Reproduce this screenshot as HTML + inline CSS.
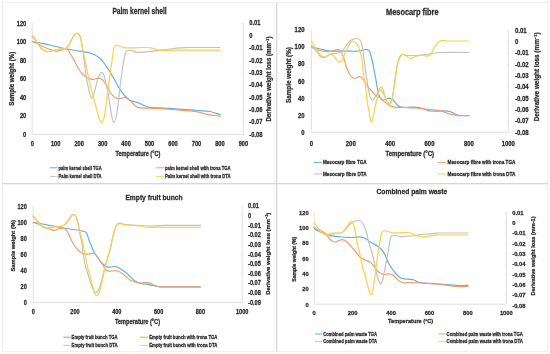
<!DOCTYPE html>
<html><head><meta charset="utf-8"><style>
html,body{margin:0;padding:0;background:#fff;}
body{width:550px;height:354px;overflow:hidden;}
svg{display:block;filter:blur(0.35px);font-family:"Liberation Sans",sans-serif;fill:#2b2b2b;}
text{stroke:#2b2b2b;stroke-width:0.26px;}
</style></head><body>
<svg width="550" height="354" viewBox="0 0 550 354"><rect x="2.5" y="2.5" width="271.5" height="181" fill="none" stroke="#efefef" stroke-width="1"/>
<rect x="277" y="2.5" width="270.5" height="181" fill="none" stroke="#efefef" stroke-width="1"/>
<rect x="2.5" y="184" width="271.5" height="167.5" fill="none" stroke="#efefef" stroke-width="1"/>
<rect x="277" y="184" width="270.5" height="167.5" fill="none" stroke="#efefef" stroke-width="1"/>
<line x1="276.60" y1="2.50" x2="276.60" y2="351.50" stroke="#d4d4d4" stroke-width="1.00"/>
<line x1="2.50" y1="183.60" x2="547.50" y2="183.60" stroke="#d4d4d4" stroke-width="1.00"/>
<line x1="32.20" y1="23.20" x2="32.20" y2="134.60" stroke="#d9d9d9" stroke-width="0.80"/>
<line x1="32.20" y1="134.60" x2="243.40" y2="134.60" stroke="#d9d9d9" stroke-width="0.80"/>
<line x1="243.40" y1="23.20" x2="243.40" y2="134.60" stroke="#d9d9d9" stroke-width="0.80"/>
<line x1="241.90" y1="23.20" x2="243.40" y2="23.20" stroke="#d9d9d9" stroke-width="0.60"/>
<line x1="241.90" y1="35.58" x2="243.40" y2="35.58" stroke="#d9d9d9" stroke-width="0.60"/>
<line x1="241.90" y1="47.96" x2="243.40" y2="47.96" stroke="#d9d9d9" stroke-width="0.60"/>
<line x1="241.90" y1="60.33" x2="243.40" y2="60.33" stroke="#d9d9d9" stroke-width="0.60"/>
<line x1="241.90" y1="72.71" x2="243.40" y2="72.71" stroke="#d9d9d9" stroke-width="0.60"/>
<line x1="241.90" y1="85.09" x2="243.40" y2="85.09" stroke="#d9d9d9" stroke-width="0.60"/>
<line x1="241.90" y1="97.47" x2="243.40" y2="97.47" stroke="#d9d9d9" stroke-width="0.60"/>
<line x1="241.90" y1="109.84" x2="243.40" y2="109.84" stroke="#d9d9d9" stroke-width="0.60"/>
<line x1="241.90" y1="122.22" x2="243.40" y2="122.22" stroke="#d9d9d9" stroke-width="0.60"/>
<line x1="241.90" y1="134.60" x2="243.40" y2="134.60" stroke="#d9d9d9" stroke-width="0.60"/>
<text x="26.20" y="136.81" font-size="6.50" font-weight="bold" text-anchor="end" textLength="3.15" lengthAdjust="spacingAndGlyphs">0</text>
<text x="26.20" y="118.28" font-size="6.50" font-weight="bold" text-anchor="end" textLength="6.30" lengthAdjust="spacingAndGlyphs">20</text>
<text x="26.20" y="99.74" font-size="6.50" font-weight="bold" text-anchor="end" textLength="6.30" lengthAdjust="spacingAndGlyphs">40</text>
<text x="26.20" y="81.21" font-size="6.50" font-weight="bold" text-anchor="end" textLength="6.30" lengthAdjust="spacingAndGlyphs">60</text>
<text x="26.20" y="62.68" font-size="6.50" font-weight="bold" text-anchor="end" textLength="6.30" lengthAdjust="spacingAndGlyphs">80</text>
<text x="26.20" y="44.14" font-size="6.50" font-weight="bold" text-anchor="end" textLength="9.45" lengthAdjust="spacingAndGlyphs">100</text>
<text x="26.20" y="25.61" font-size="6.50" font-weight="bold" text-anchor="end" textLength="9.45" lengthAdjust="spacingAndGlyphs">120</text>
<text x="249.30" y="25.41" font-size="6.50" font-weight="bold" textLength="11.18" lengthAdjust="spacingAndGlyphs">0.01</text>
<text x="249.30" y="37.79" font-size="6.50" font-weight="bold" textLength="3.15" lengthAdjust="spacingAndGlyphs">0</text>
<text x="249.30" y="50.17" font-size="6.50" font-weight="bold" textLength="13.07" lengthAdjust="spacingAndGlyphs">-0.01</text>
<text x="249.30" y="62.54" font-size="6.50" font-weight="bold" textLength="13.07" lengthAdjust="spacingAndGlyphs">-0.02</text>
<text x="249.30" y="74.92" font-size="6.50" font-weight="bold" textLength="13.07" lengthAdjust="spacingAndGlyphs">-0.03</text>
<text x="249.30" y="87.30" font-size="6.50" font-weight="bold" textLength="13.07" lengthAdjust="spacingAndGlyphs">-0.04</text>
<text x="249.30" y="99.68" font-size="6.50" font-weight="bold" textLength="13.07" lengthAdjust="spacingAndGlyphs">-0.05</text>
<text x="249.30" y="112.05" font-size="6.50" font-weight="bold" textLength="13.07" lengthAdjust="spacingAndGlyphs">-0.06</text>
<text x="249.30" y="124.43" font-size="6.50" font-weight="bold" textLength="13.07" lengthAdjust="spacingAndGlyphs">-0.07</text>
<text x="249.30" y="136.81" font-size="6.50" font-weight="bold" textLength="13.07" lengthAdjust="spacingAndGlyphs">-0.08</text>
<text x="32.20" y="146.21" font-size="6.50" font-weight="bold" text-anchor="middle" textLength="3.15" lengthAdjust="spacingAndGlyphs">0</text>
<text x="55.67" y="146.21" font-size="6.50" font-weight="bold" text-anchor="middle" textLength="9.45" lengthAdjust="spacingAndGlyphs">100</text>
<text x="79.13" y="146.21" font-size="6.50" font-weight="bold" text-anchor="middle" textLength="9.45" lengthAdjust="spacingAndGlyphs">200</text>
<text x="102.60" y="146.21" font-size="6.50" font-weight="bold" text-anchor="middle" textLength="9.45" lengthAdjust="spacingAndGlyphs">300</text>
<text x="126.07" y="146.21" font-size="6.50" font-weight="bold" text-anchor="middle" textLength="9.45" lengthAdjust="spacingAndGlyphs">400</text>
<text x="149.53" y="146.21" font-size="6.50" font-weight="bold" text-anchor="middle" textLength="9.45" lengthAdjust="spacingAndGlyphs">500</text>
<text x="173.00" y="146.21" font-size="6.50" font-weight="bold" text-anchor="middle" textLength="9.45" lengthAdjust="spacingAndGlyphs">600</text>
<text x="196.47" y="146.21" font-size="6.50" font-weight="bold" text-anchor="middle" textLength="9.45" lengthAdjust="spacingAndGlyphs">700</text>
<text x="219.93" y="146.21" font-size="6.50" font-weight="bold" text-anchor="middle" textLength="9.45" lengthAdjust="spacingAndGlyphs">800</text>
<text x="243.40" y="146.21" font-size="6.50" font-weight="bold" text-anchor="middle" textLength="9.45" lengthAdjust="spacingAndGlyphs">900</text>
<text x="139.50" y="14.00" font-size="8.20" font-weight="bold" text-anchor="middle" textLength="54.20" lengthAdjust="spacingAndGlyphs">Palm kernel shell</text>
<text x="137.90" y="156.40" font-size="6.40" font-weight="bold" text-anchor="middle" textLength="44.70" lengthAdjust="spacingAndGlyphs">Temperature (°C)</text>
<text x="14.40" y="78.70" font-size="6.40" font-weight="bold" text-anchor="middle" textLength="54.00" lengthAdjust="spacingAndGlyphs" transform="rotate(-90 14.40 78.70)">Sample weight (%)</text>
<text x="270.90" y="79.00" font-size="6.40" font-weight="bold" text-anchor="middle" textLength="85.00" lengthAdjust="spacingAndGlyphs" transform="rotate(-90 270.90 79.00)">Derivative weight loss (mm<tspan dy="-2.24" font-size="4.16">&#8722;1</tspan><tspan dy="2.24">)</tspan></text>
<line x1="49.80" y1="167.80" x2="57.80" y2="167.80" stroke="#5cb0e2" stroke-width="1.00"/>
<text x="58.60" y="169.60" font-size="5.00" font-weight="bold" textLength="43.00" lengthAdjust="spacingAndGlyphs">palm kernel shell TGA</text>
<line x1="49.80" y1="176.40" x2="57.80" y2="176.40" stroke="#c2c2c5" stroke-width="1.00"/>
<text x="58.60" y="178.20" font-size="5.00" font-weight="bold" textLength="43.00" lengthAdjust="spacingAndGlyphs">Palm kernel shell DTA</text>
<line x1="156.20" y1="167.80" x2="164.20" y2="167.80" stroke="#f69c6a" stroke-width="1.00"/>
<text x="165.00" y="169.60" font-size="5.00" font-weight="bold" textLength="65.60" lengthAdjust="spacingAndGlyphs">palm kernel shell with trona TGA</text>
<line x1="156.20" y1="176.40" x2="164.20" y2="176.40" stroke="#fdd045" stroke-width="1.00"/>
<text x="165.00" y="178.20" font-size="5.00" font-weight="bold" textLength="65.60" lengthAdjust="spacingAndGlyphs">Palm kernel shell with trona DTA</text>
<path d="M32.20,41.50 C33.50,41.75 37.03,42.42 40.00,43.00 C42.97,43.58 46.67,44.25 50.00,45.00 C53.33,45.75 56.67,46.75 60.00,47.50 C63.33,48.25 66.67,48.88 70.00,49.50 C73.33,50.12 76.67,50.62 80.00,51.20 C83.33,51.78 87.50,52.37 90.00,53.00 C92.50,53.63 93.33,54.08 95.00,55.00 C96.67,55.92 98.50,57.17 100.00,58.50 C101.50,59.83 102.83,61.50 104.00,63.00 C105.17,64.50 106.00,66.00 107.00,67.50 C108.00,69.00 109.00,70.42 110.00,72.00 C111.00,73.58 112.00,75.25 113.00,77.00 C114.00,78.75 115.00,80.67 116.00,82.50 C117.00,84.33 118.00,86.37 119.00,88.00 C120.00,89.63 120.83,90.80 122.00,92.30 C123.17,93.80 124.67,95.67 126.00,97.00 C127.33,98.33 128.50,99.50 130.00,100.30 C131.50,101.10 133.33,101.27 135.00,101.80 C136.67,102.33 138.33,102.80 140.00,103.50 C141.67,104.20 143.33,105.35 145.00,106.00 C146.67,106.65 147.50,107.08 150.00,107.40 C152.50,107.72 156.67,107.73 160.00,107.90 C163.33,108.07 166.67,108.18 170.00,108.40 C173.33,108.62 176.67,108.97 180.00,109.20 C183.33,109.43 186.67,109.57 190.00,109.80 C193.33,110.03 196.67,110.32 200.00,110.60 C203.33,110.88 207.50,111.10 210.00,111.50 C212.50,111.90 213.30,112.48 215.00,113.00 C216.70,113.52 219.33,114.33 220.20,114.60" fill="none" stroke="#5cb0e2" stroke-width="1.20" stroke-linejoin="round" stroke-linecap="round"/>
<path d="M32.20,41.50 C32.83,41.75 34.70,42.42 36.00,43.00 C37.30,43.58 38.50,44.25 40.00,45.00 C41.50,45.75 43.33,46.75 45.00,47.50 C46.67,48.25 48.33,48.92 50.00,49.50 C51.67,50.08 53.67,50.73 55.00,51.00 C56.33,51.27 56.83,51.33 58.00,51.10 C59.17,50.87 60.67,50.02 62.00,49.60 C63.33,49.18 65.00,48.53 66.00,48.60 C67.00,48.67 67.17,48.93 68.00,50.00 C68.83,51.07 70.00,53.33 71.00,55.00 C72.00,56.67 73.00,58.17 74.00,60.00 C75.00,61.83 76.00,64.17 77.00,66.00 C78.00,67.83 79.00,69.58 80.00,71.00 C81.00,72.42 81.83,73.42 83.00,74.50 C84.17,75.58 85.67,76.72 87.00,77.50 C88.33,78.28 89.67,78.95 91.00,79.20 C92.33,79.45 93.67,79.17 95.00,79.00 C96.33,78.83 97.83,78.12 99.00,78.20 C100.17,78.28 101.00,78.70 102.00,79.50 C103.00,80.30 104.00,81.58 105.00,83.00 C106.00,84.42 107.08,86.35 108.00,88.00 C108.92,89.65 109.33,91.33 110.50,92.90 C111.67,94.47 113.50,96.45 115.00,97.40 C116.50,98.35 117.83,98.60 119.50,98.60 C121.17,98.60 123.25,97.07 125.00,97.40 C126.75,97.73 128.33,99.25 130.00,100.60 C131.67,101.95 133.58,104.33 135.00,105.50 C136.42,106.67 136.83,107.15 138.50,107.60 C140.17,108.05 143.08,108.12 145.00,108.20 C146.92,108.28 147.50,108.03 150.00,108.10 C152.50,108.17 156.67,108.40 160.00,108.60 C163.33,108.80 166.67,109.03 170.00,109.30 C173.33,109.57 176.67,109.93 180.00,110.20 C183.33,110.47 187.50,110.72 190.00,110.90 C192.50,111.08 193.33,111.05 195.00,111.30 C196.67,111.55 198.33,111.98 200.00,112.40 C201.67,112.82 203.33,113.40 205.00,113.80 C206.67,114.20 208.33,114.52 210.00,114.80 C211.67,115.08 213.30,115.23 215.00,115.50 C216.70,115.77 219.33,116.25 220.20,116.40" fill="none" stroke="#f69c6a" stroke-width="1.20" stroke-linejoin="round" stroke-linecap="round"/>
<path d="M32.20,36.50 C32.67,37.08 34.03,38.75 35.00,40.00 C35.97,41.25 37.00,42.67 38.00,44.00 C39.00,45.33 40.00,46.92 41.00,48.00 C42.00,49.08 43.00,49.92 44.00,50.50 C45.00,51.08 45.83,51.38 47.00,51.50 C48.17,51.62 49.67,51.45 51.00,51.20 C52.33,50.95 53.50,50.37 55.00,50.00 C56.50,49.63 58.33,49.25 60.00,49.00 C61.67,48.75 63.67,48.92 65.00,48.50 C66.33,48.08 67.17,47.42 68.00,46.50 C68.83,45.58 69.17,44.58 70.00,43.00 C70.83,41.42 72.00,38.57 73.00,37.00 C74.00,35.43 75.17,34.17 76.00,33.60 C76.83,33.03 77.33,33.20 78.00,33.60 C78.67,34.00 79.42,34.60 80.00,36.00 C80.58,37.40 81.00,39.33 81.50,42.00 C82.00,44.67 82.50,48.50 83.00,52.00 C83.50,55.50 84.00,59.17 84.50,63.00 C85.00,66.83 85.42,71.17 86.00,75.00 C86.58,78.83 87.42,83.00 88.00,86.00 C88.58,89.00 88.95,91.08 89.50,93.00 C90.05,94.92 90.72,96.83 91.30,97.50 C91.88,98.17 92.38,98.25 93.00,97.00 C93.62,95.75 94.33,92.50 95.00,90.00 C95.67,87.50 96.33,84.33 97.00,82.00 C97.67,79.67 98.33,77.50 99.00,76.00 C99.67,74.50 100.50,73.58 101.00,73.00 C101.50,72.42 101.58,72.33 102.00,72.50 C102.42,72.67 103.00,72.92 103.50,74.00 C104.00,75.08 104.50,77.00 105.00,79.00 C105.50,81.00 106.00,83.67 106.50,86.00 C107.00,88.33 107.50,90.33 108.00,93.00 C108.50,95.67 108.90,98.25 109.50,102.00 C110.10,105.75 110.87,112.12 111.60,115.50 C112.33,118.88 113.08,122.30 113.90,122.30 C114.72,122.30 115.73,119.22 116.50,115.50 C117.27,111.78 117.92,104.75 118.50,100.00 C119.08,95.25 119.50,91.17 120.00,87.00 C120.50,82.83 121.00,78.67 121.50,75.00 C122.00,71.33 122.42,68.33 123.00,65.00 C123.58,61.67 124.33,57.33 125.00,55.00 C125.67,52.67 126.17,51.80 127.00,51.00 C127.83,50.20 129.00,50.20 130.00,50.20 C131.00,50.20 131.83,50.63 133.00,51.00 C134.17,51.37 135.00,52.23 137.00,52.40 C139.00,52.57 142.00,52.23 145.00,52.00 C148.00,51.77 152.17,51.30 155.00,51.00 C157.83,50.70 159.50,50.53 162.00,50.20 C164.50,49.87 167.00,49.40 170.00,49.00 C173.00,48.60 176.67,48.05 180.00,47.80 C183.33,47.55 183.30,47.55 190.00,47.50 C196.70,47.45 215.17,47.50 220.20,47.50" fill="none" stroke="#c2c2c5" stroke-width="1.20" stroke-linejoin="round" stroke-linecap="round"/>
<path d="M32.20,35.00 C32.67,35.67 34.03,37.58 35.00,39.00 C35.97,40.42 37.00,42.00 38.00,43.50 C39.00,45.00 40.00,46.83 41.00,48.00 C42.00,49.17 43.00,49.92 44.00,50.50 C45.00,51.08 45.83,51.38 47.00,51.50 C48.17,51.62 49.67,51.45 51.00,51.20 C52.33,50.95 53.50,50.37 55.00,50.00 C56.50,49.63 58.33,49.25 60.00,49.00 C61.67,48.75 63.67,48.92 65.00,48.50 C66.33,48.08 67.17,47.42 68.00,46.50 C68.83,45.58 69.17,44.58 70.00,43.00 C70.83,41.42 72.00,38.58 73.00,37.00 C74.00,35.42 75.17,34.08 76.00,33.50 C76.83,32.92 77.33,32.92 78.00,33.50 C78.67,34.08 79.33,35.08 80.00,37.00 C80.67,38.92 81.33,42.00 82.00,45.00 C82.67,48.00 83.42,52.17 84.00,55.00 C84.58,57.83 85.00,59.50 85.50,62.00 C86.00,64.50 86.42,67.00 87.00,70.00 C87.58,73.00 88.33,77.00 89.00,80.00 C89.67,83.00 90.05,84.33 91.00,88.00 C91.95,91.67 93.43,97.23 94.70,102.00 C95.97,106.77 97.47,113.13 98.60,116.60 C99.73,120.07 100.55,122.80 101.50,122.80 C102.45,122.80 103.37,121.02 104.30,116.60 C105.23,112.18 106.40,101.57 107.10,96.30 C107.80,91.03 108.02,88.55 108.50,85.00 C108.98,81.45 109.42,79.00 110.00,75.00 C110.58,71.00 111.42,65.17 112.00,61.00 C112.58,56.83 113.00,52.50 113.50,50.00 C114.00,47.50 114.42,46.75 115.00,46.00 C115.58,45.25 116.00,45.42 117.00,45.50 C118.00,45.58 119.67,46.12 121.00,46.50 C122.33,46.88 122.67,47.58 125.00,47.80 C127.33,48.02 131.33,47.85 135.00,47.80 C138.67,47.75 144.00,47.38 147.00,47.50 C150.00,47.62 150.83,48.05 153.00,48.50 C155.17,48.95 156.33,49.92 160.00,50.20 C163.67,50.48 164.97,50.20 175.00,50.20 C185.03,50.20 212.67,50.20 220.20,50.20" fill="none" stroke="#fdd045" stroke-width="1.20" stroke-linejoin="round" stroke-linecap="round"/>
<line x1="311.40" y1="30.00" x2="311.40" y2="132.30" stroke="#d9d9d9" stroke-width="0.80"/>
<line x1="311.40" y1="132.30" x2="508.30" y2="132.30" stroke="#d9d9d9" stroke-width="0.80"/>
<line x1="508.30" y1="30.00" x2="508.30" y2="132.30" stroke="#d9d9d9" stroke-width="0.80"/>
<line x1="506.80" y1="30.40" x2="508.30" y2="30.40" stroke="#d9d9d9" stroke-width="0.60"/>
<line x1="506.80" y1="41.73" x2="508.30" y2="41.73" stroke="#d9d9d9" stroke-width="0.60"/>
<line x1="506.80" y1="53.07" x2="508.30" y2="53.07" stroke="#d9d9d9" stroke-width="0.60"/>
<line x1="506.80" y1="64.40" x2="508.30" y2="64.40" stroke="#d9d9d9" stroke-width="0.60"/>
<line x1="506.80" y1="75.73" x2="508.30" y2="75.73" stroke="#d9d9d9" stroke-width="0.60"/>
<line x1="506.80" y1="87.07" x2="508.30" y2="87.07" stroke="#d9d9d9" stroke-width="0.60"/>
<line x1="506.80" y1="98.40" x2="508.30" y2="98.40" stroke="#d9d9d9" stroke-width="0.60"/>
<line x1="506.80" y1="109.73" x2="508.30" y2="109.73" stroke="#d9d9d9" stroke-width="0.60"/>
<line x1="506.80" y1="121.07" x2="508.30" y2="121.07" stroke="#d9d9d9" stroke-width="0.60"/>
<line x1="506.80" y1="132.40" x2="508.30" y2="132.40" stroke="#d9d9d9" stroke-width="0.60"/>
<text x="304.50" y="134.81" font-size="6.50" font-weight="bold" text-anchor="end" textLength="3.30" lengthAdjust="spacingAndGlyphs">0</text>
<text x="304.50" y="117.71" font-size="6.50" font-weight="bold" text-anchor="end" textLength="6.60" lengthAdjust="spacingAndGlyphs">20</text>
<text x="304.50" y="100.61" font-size="6.50" font-weight="bold" text-anchor="end" textLength="6.60" lengthAdjust="spacingAndGlyphs">40</text>
<text x="304.50" y="83.51" font-size="6.50" font-weight="bold" text-anchor="end" textLength="6.60" lengthAdjust="spacingAndGlyphs">60</text>
<text x="304.50" y="66.41" font-size="6.50" font-weight="bold" text-anchor="end" textLength="6.60" lengthAdjust="spacingAndGlyphs">80</text>
<text x="304.50" y="49.31" font-size="6.50" font-weight="bold" text-anchor="end" textLength="9.90" lengthAdjust="spacingAndGlyphs">100</text>
<text x="304.50" y="32.21" font-size="6.50" font-weight="bold" text-anchor="end" textLength="9.90" lengthAdjust="spacingAndGlyphs">120</text>
<text x="515.00" y="32.61" font-size="6.50" font-weight="bold" textLength="11.71" lengthAdjust="spacingAndGlyphs">0.01</text>
<text x="515.00" y="43.94" font-size="6.50" font-weight="bold" textLength="3.30" lengthAdjust="spacingAndGlyphs">0</text>
<text x="515.00" y="55.28" font-size="6.50" font-weight="bold" textLength="13.70" lengthAdjust="spacingAndGlyphs">-0.01</text>
<text x="515.00" y="66.61" font-size="6.50" font-weight="bold" textLength="13.70" lengthAdjust="spacingAndGlyphs">-0.02</text>
<text x="515.00" y="77.94" font-size="6.50" font-weight="bold" textLength="13.70" lengthAdjust="spacingAndGlyphs">-0.03</text>
<text x="515.00" y="89.28" font-size="6.50" font-weight="bold" textLength="13.70" lengthAdjust="spacingAndGlyphs">-0.04</text>
<text x="515.00" y="100.61" font-size="6.50" font-weight="bold" textLength="13.70" lengthAdjust="spacingAndGlyphs">-0.05</text>
<text x="515.00" y="111.94" font-size="6.50" font-weight="bold" textLength="13.70" lengthAdjust="spacingAndGlyphs">-0.06</text>
<text x="515.00" y="123.28" font-size="6.50" font-weight="bold" textLength="13.70" lengthAdjust="spacingAndGlyphs">-0.07</text>
<text x="515.00" y="134.61" font-size="6.50" font-weight="bold" textLength="13.70" lengthAdjust="spacingAndGlyphs">-0.08</text>
<text x="311.40" y="145.61" font-size="6.50" font-weight="bold" text-anchor="middle" textLength="3.30" lengthAdjust="spacingAndGlyphs">0</text>
<text x="350.78" y="145.61" font-size="6.50" font-weight="bold" text-anchor="middle" textLength="9.90" lengthAdjust="spacingAndGlyphs">200</text>
<text x="390.16" y="145.61" font-size="6.50" font-weight="bold" text-anchor="middle" textLength="9.90" lengthAdjust="spacingAndGlyphs">400</text>
<text x="429.54" y="145.61" font-size="6.50" font-weight="bold" text-anchor="middle" textLength="9.90" lengthAdjust="spacingAndGlyphs">600</text>
<text x="468.92" y="145.61" font-size="6.50" font-weight="bold" text-anchor="middle" textLength="9.90" lengthAdjust="spacingAndGlyphs">800</text>
<text x="508.30" y="145.61" font-size="6.50" font-weight="bold" text-anchor="middle" textLength="13.20" lengthAdjust="spacingAndGlyphs">1000</text>
<text x="412.30" y="15.00" font-size="8.40" font-weight="bold" text-anchor="middle" textLength="52.60" lengthAdjust="spacingAndGlyphs">Mesocarp fibre</text>
<text x="409.80" y="156.40" font-size="6.60" font-weight="bold" text-anchor="middle" textLength="48.70" lengthAdjust="spacingAndGlyphs">Temperature (°C)</text>
<text x="291.20" y="75.00" font-size="6.40" font-weight="bold" text-anchor="middle" textLength="56.00" lengthAdjust="spacingAndGlyphs" transform="rotate(-90 291.20 75.00)">Sample weight (%)</text>
<text x="539.30" y="76.80" font-size="6.40" font-weight="bold" text-anchor="middle" textLength="89.00" lengthAdjust="spacingAndGlyphs" transform="rotate(-90 539.30 76.80)">Derivative weight loss (mm<tspan dy="-2.24" font-size="4.16">&#8722;1</tspan><tspan dy="2.24">)</tspan></text>
<line x1="313.60" y1="162.40" x2="322.00" y2="162.40" stroke="#5cb0e2" stroke-width="1.00"/>
<text x="323.00" y="164.27" font-size="5.20" font-weight="bold" textLength="43.60" lengthAdjust="spacingAndGlyphs">Mesocarp fibre TGA</text>
<line x1="313.60" y1="174.00" x2="322.00" y2="174.00" stroke="#c2c2c5" stroke-width="1.00"/>
<text x="323.00" y="175.87" font-size="5.20" font-weight="bold" textLength="43.60" lengthAdjust="spacingAndGlyphs">Mesocarp fibre DTA</text>
<line x1="438.00" y1="162.40" x2="446.00" y2="162.40" stroke="#f69c6a" stroke-width="1.00"/>
<text x="447.60" y="164.27" font-size="5.20" font-weight="bold" textLength="67.80" lengthAdjust="spacingAndGlyphs">Mesocarp fibre with trona TGA</text>
<line x1="438.00" y1="174.00" x2="446.00" y2="174.00" stroke="#fdd045" stroke-width="1.00"/>
<text x="447.60" y="175.87" font-size="5.20" font-weight="bold" textLength="67.80" lengthAdjust="spacingAndGlyphs">Mesocarp fibre with trona DTA</text>
<path d="M311.60,47.20 C313.00,47.50 316.93,48.37 320.00,49.00 C323.07,49.63 326.67,50.63 330.00,51.00 C333.33,51.37 336.67,51.17 340.00,51.20 C343.33,51.23 347.00,51.20 350.00,51.20 C353.00,51.20 356.00,51.32 358.00,51.20 C360.00,51.08 360.83,50.78 362.00,50.50 C363.17,50.22 364.00,49.62 365.00,49.50 C366.00,49.38 367.17,49.38 368.00,49.80 C368.83,50.22 369.33,50.30 370.00,52.00 C370.67,53.70 371.42,57.50 372.00,60.00 C372.58,62.50 373.00,64.50 373.50,67.00 C374.00,69.50 374.50,72.33 375.00,75.00 C375.50,77.67 376.00,80.23 376.50,83.00 C377.00,85.77 377.52,89.33 378.00,91.60 C378.48,93.87 378.73,95.20 379.40,96.60 C380.07,98.00 380.87,99.60 382.00,100.00 C383.13,100.40 384.93,99.28 386.20,99.00 C387.47,98.72 388.62,98.27 389.60,98.30 C390.58,98.33 391.12,98.48 392.10,99.20 C393.08,99.92 394.35,101.37 395.50,102.60 C396.65,103.83 397.42,105.78 399.00,106.60 C400.58,107.42 403.17,107.40 405.00,107.50 C406.83,107.60 408.33,107.25 410.00,107.20 C411.67,107.15 413.33,107.10 415.00,107.20 C416.67,107.30 418.33,107.42 420.00,107.80 C421.67,108.18 423.33,108.97 425.00,109.50 C426.67,110.03 427.50,110.73 430.00,111.00 C432.50,111.27 437.50,111.12 440.00,111.10 C442.50,111.08 443.33,110.83 445.00,110.90 C446.67,110.97 448.50,111.07 450.00,111.50 C451.50,111.93 452.83,112.92 454.00,113.50 C455.17,114.08 456.00,114.67 457.00,115.00 C458.00,115.33 458.00,115.40 460.00,115.50 C462.00,115.60 467.50,115.58 469.00,115.60" fill="none" stroke="#5cb0e2" stroke-width="1.20" stroke-linejoin="round" stroke-linecap="round"/>
<path d="M311.60,47.00 C312.17,47.33 313.60,48.42 315.00,49.00 C316.40,49.58 318.33,50.08 320.00,50.50 C321.67,50.92 323.33,51.33 325.00,51.50 C326.67,51.67 328.50,51.67 330.00,51.50 C331.50,51.33 332.83,50.83 334.00,50.50 C335.17,50.17 336.17,49.62 337.00,49.50 C337.83,49.38 338.33,49.47 339.00,49.80 C339.67,50.13 340.33,50.47 341.00,51.50 C341.67,52.53 342.33,54.25 343.00,56.00 C343.67,57.75 344.50,60.33 345.00,62.00 C345.50,63.67 345.50,64.50 346.00,66.00 C346.50,67.50 347.33,69.50 348.00,71.00 C348.67,72.50 349.17,73.83 350.00,75.00 C350.83,76.17 352.00,77.50 353.00,78.00 C354.00,78.50 354.83,78.25 356.00,78.00 C357.17,77.75 358.83,76.33 360.00,76.50 C361.17,76.67 362.00,77.75 363.00,79.00 C364.00,80.25 365.00,82.50 366.00,84.00 C367.00,85.50 368.00,86.77 369.00,88.00 C370.00,89.23 370.97,90.23 372.00,91.40 C373.03,92.57 373.97,93.98 375.20,95.00 C376.43,96.02 378.00,96.52 379.40,97.50 C380.80,98.48 382.18,99.77 383.60,100.90 C385.02,102.03 386.62,103.38 387.90,104.30 C389.18,105.22 390.17,105.92 391.30,106.40 C392.43,106.88 393.25,107.05 394.70,107.20 C396.15,107.35 398.28,107.25 400.00,107.30 C401.72,107.35 402.50,107.38 405.00,107.50 C407.50,107.62 411.67,107.75 415.00,108.00 C418.33,108.25 421.67,108.67 425.00,109.00 C428.33,109.33 432.50,109.75 435.00,110.00 C437.50,110.25 438.33,110.12 440.00,110.50 C441.67,110.88 443.33,111.72 445.00,112.30 C446.67,112.88 448.33,113.55 450.00,114.00 C451.67,114.45 453.33,114.72 455.00,115.00 C456.67,115.28 458.33,115.58 460.00,115.70 C461.67,115.82 463.50,115.73 465.00,115.70 C466.50,115.67 468.33,115.53 469.00,115.50" fill="none" stroke="#f69c6a" stroke-width="1.20" stroke-linejoin="round" stroke-linecap="round"/>
<path d="M311.60,45.00 C312.00,45.50 313.10,46.83 314.00,48.00 C314.90,49.17 316.00,50.67 317.00,52.00 C318.00,53.33 319.00,55.08 320.00,56.00 C321.00,56.92 322.00,57.42 323.00,57.50 C324.00,57.58 324.83,57.08 326.00,56.50 C327.17,55.92 328.67,54.50 330.00,54.00 C331.33,53.50 332.67,53.67 334.00,53.50 C335.33,53.33 336.67,53.42 338.00,53.00 C339.33,52.58 340.67,52.17 342.00,51.00 C343.33,49.83 344.67,47.67 346.00,46.00 C347.33,44.33 348.67,42.17 350.00,41.00 C351.33,39.83 352.83,39.42 354.00,39.00 C355.17,38.58 356.00,38.33 357.00,38.50 C358.00,38.67 359.17,38.92 360.00,40.00 C360.83,41.08 361.42,42.50 362.00,45.00 C362.58,47.50 363.08,52.00 363.50,55.00 C363.92,58.00 364.17,60.50 364.50,63.00 C364.83,65.50 365.08,67.17 365.50,70.00 C365.92,72.83 366.52,76.83 367.00,80.00 C367.48,83.17 367.88,86.23 368.40,89.00 C368.92,91.77 369.47,94.73 370.10,96.60 C370.73,98.47 371.50,99.92 372.20,100.20 C372.90,100.48 373.60,99.17 374.30,98.30 C375.00,97.43 375.62,96.22 376.40,95.00 C377.18,93.78 378.23,91.83 379.00,91.00 C379.77,90.17 380.17,89.33 381.00,90.00 C381.83,90.67 383.00,93.17 384.00,95.00 C385.00,96.83 386.08,99.58 387.00,101.00 C387.92,102.42 388.67,103.83 389.50,103.50 C390.33,103.17 391.25,101.75 392.00,99.00 C392.75,96.25 393.33,91.50 394.00,87.00 C394.67,82.50 395.33,76.17 396.00,72.00 C396.67,67.83 397.17,64.67 398.00,62.00 C398.83,59.33 400.17,57.25 401.00,56.00 C401.83,54.75 402.00,54.58 403.00,54.50 C404.00,54.42 405.00,55.33 407.00,55.50 C409.00,55.67 412.83,55.58 415.00,55.50 C417.17,55.42 417.50,55.25 420.00,55.00 C422.50,54.75 427.50,54.33 430.00,54.00 C432.50,53.67 433.33,53.25 435.00,53.00 C436.67,52.75 434.33,52.58 440.00,52.50 C445.67,52.42 464.17,52.50 469.00,52.50" fill="none" stroke="#c2c2c5" stroke-width="1.20" stroke-linejoin="round" stroke-linecap="round"/>
<path d="M311.60,41.50 C312.00,42.08 313.10,43.58 314.00,45.00 C314.90,46.42 316.00,48.42 317.00,50.00 C318.00,51.58 319.00,53.37 320.00,54.50 C321.00,55.63 322.00,56.52 323.00,56.80 C324.00,57.08 324.83,56.58 326.00,56.20 C327.17,55.82 328.83,54.70 330.00,54.50 C331.17,54.30 332.00,54.25 333.00,55.00 C334.00,55.75 335.00,57.80 336.00,59.00 C337.00,60.20 338.17,61.78 339.00,62.20 C339.83,62.62 340.33,62.20 341.00,61.50 C341.67,60.80 342.33,59.42 343.00,58.00 C343.67,56.58 344.17,54.83 345.00,53.00 C345.83,51.17 347.00,48.83 348.00,47.00 C349.00,45.17 350.17,43.00 351.00,42.00 C351.83,41.00 352.17,40.83 353.00,41.00 C353.83,41.17 355.00,41.83 356.00,43.00 C357.00,44.17 358.17,46.00 359.00,48.00 C359.83,50.00 360.42,52.50 361.00,55.00 C361.58,57.50 362.17,60.50 362.50,63.00 C362.83,65.50 362.67,67.17 363.00,70.00 C363.33,72.83 364.00,76.67 364.50,80.00 C365.00,83.33 365.58,86.67 366.00,90.00 C366.42,93.33 366.50,96.33 367.00,100.00 C367.50,103.67 368.30,108.37 369.00,112.00 C369.70,115.63 370.45,121.30 371.20,121.80 C371.95,122.30 372.78,117.80 373.50,115.00 C374.22,112.20 374.83,108.07 375.50,105.00 C376.17,101.93 376.85,99.27 377.50,96.60 C378.15,93.93 378.80,90.62 379.40,89.00 C380.00,87.38 380.53,86.90 381.10,86.90 C381.67,86.90 382.10,87.23 382.80,89.00 C383.50,90.77 384.45,95.17 385.30,97.50 C386.15,99.83 387.18,101.87 387.90,103.00 C388.62,104.13 389.03,104.37 389.60,104.30 C390.17,104.23 390.73,104.15 391.30,102.60 C391.87,101.05 392.52,97.68 393.00,95.00 C393.48,92.32 393.78,89.33 394.20,86.50 C394.62,83.67 395.03,81.25 395.50,78.00 C395.97,74.75 396.58,69.67 397.00,67.00 C397.42,64.33 397.58,63.67 398.00,62.00 C398.42,60.33 399.00,58.17 399.50,57.00 C400.00,55.83 400.42,55.42 401.00,55.00 C401.58,54.58 402.17,54.33 403.00,54.50 C403.83,54.67 405.00,55.42 406.00,56.00 C407.00,56.58 408.00,57.63 409.00,58.00 C410.00,58.37 410.83,58.45 412.00,58.20 C413.17,57.95 414.67,56.95 416.00,56.50 C417.33,56.05 418.67,55.67 420.00,55.50 C421.33,55.33 422.83,55.38 424.00,55.50 C425.17,55.62 426.00,56.28 427.00,56.20 C428.00,56.12 429.17,55.70 430.00,55.00 C430.83,54.30 431.33,53.17 432.00,52.00 C432.67,50.83 433.17,49.33 434.00,48.00 C434.83,46.67 436.17,45.08 437.00,44.00 C437.83,42.92 438.17,42.07 439.00,41.50 C439.83,40.93 441.00,40.73 442.00,40.60 C443.00,40.47 443.67,40.63 445.00,40.70 C446.33,40.77 446.00,40.95 450.00,41.00 C454.00,41.05 465.83,41.00 469.00,41.00" fill="none" stroke="#fdd045" stroke-width="1.20" stroke-linejoin="round" stroke-linecap="round"/>
<line x1="33.20" y1="206.00" x2="33.20" y2="302.60" stroke="#d9d9d9" stroke-width="0.80"/>
<line x1="33.20" y1="302.60" x2="242.20" y2="302.60" stroke="#d9d9d9" stroke-width="0.80"/>
<line x1="242.20" y1="206.00" x2="242.20" y2="302.60" stroke="#d9d9d9" stroke-width="0.80"/>
<line x1="240.70" y1="206.00" x2="242.20" y2="206.00" stroke="#d9d9d9" stroke-width="0.60"/>
<line x1="240.70" y1="215.66" x2="242.20" y2="215.66" stroke="#d9d9d9" stroke-width="0.60"/>
<line x1="240.70" y1="225.32" x2="242.20" y2="225.32" stroke="#d9d9d9" stroke-width="0.60"/>
<line x1="240.70" y1="234.98" x2="242.20" y2="234.98" stroke="#d9d9d9" stroke-width="0.60"/>
<line x1="240.70" y1="244.64" x2="242.20" y2="244.64" stroke="#d9d9d9" stroke-width="0.60"/>
<line x1="240.70" y1="254.30" x2="242.20" y2="254.30" stroke="#d9d9d9" stroke-width="0.60"/>
<line x1="240.70" y1="263.96" x2="242.20" y2="263.96" stroke="#d9d9d9" stroke-width="0.60"/>
<line x1="240.70" y1="273.62" x2="242.20" y2="273.62" stroke="#d9d9d9" stroke-width="0.60"/>
<line x1="240.70" y1="283.28" x2="242.20" y2="283.28" stroke="#d9d9d9" stroke-width="0.60"/>
<line x1="240.70" y1="292.94" x2="242.20" y2="292.94" stroke="#d9d9d9" stroke-width="0.60"/>
<line x1="240.70" y1="302.60" x2="242.20" y2="302.60" stroke="#d9d9d9" stroke-width="0.60"/>
<text x="26.80" y="305.01" font-size="6.50" font-weight="bold" text-anchor="end" textLength="3.10" lengthAdjust="spacingAndGlyphs">0</text>
<text x="26.80" y="288.93" font-size="6.50" font-weight="bold" text-anchor="end" textLength="6.20" lengthAdjust="spacingAndGlyphs">20</text>
<text x="26.80" y="272.84" font-size="6.50" font-weight="bold" text-anchor="end" textLength="6.20" lengthAdjust="spacingAndGlyphs">40</text>
<text x="26.80" y="256.76" font-size="6.50" font-weight="bold" text-anchor="end" textLength="6.20" lengthAdjust="spacingAndGlyphs">60</text>
<text x="26.80" y="240.68" font-size="6.50" font-weight="bold" text-anchor="end" textLength="6.20" lengthAdjust="spacingAndGlyphs">80</text>
<text x="26.80" y="224.59" font-size="6.50" font-weight="bold" text-anchor="end" textLength="9.30" lengthAdjust="spacingAndGlyphs">100</text>
<text x="26.80" y="208.51" font-size="6.50" font-weight="bold" text-anchor="end" textLength="9.30" lengthAdjust="spacingAndGlyphs">120</text>
<text x="248.00" y="208.21" font-size="6.50" font-weight="bold" textLength="11.01" lengthAdjust="spacingAndGlyphs">0.01</text>
<text x="248.00" y="217.87" font-size="6.50" font-weight="bold" textLength="3.10" lengthAdjust="spacingAndGlyphs">0</text>
<text x="248.00" y="227.53" font-size="6.50" font-weight="bold" textLength="12.87" lengthAdjust="spacingAndGlyphs">-0.01</text>
<text x="248.00" y="237.19" font-size="6.50" font-weight="bold" textLength="12.87" lengthAdjust="spacingAndGlyphs">-0.02</text>
<text x="248.00" y="246.85" font-size="6.50" font-weight="bold" textLength="12.87" lengthAdjust="spacingAndGlyphs">-0.03</text>
<text x="248.00" y="256.51" font-size="6.50" font-weight="bold" textLength="12.87" lengthAdjust="spacingAndGlyphs">-0.04</text>
<text x="248.00" y="266.17" font-size="6.50" font-weight="bold" textLength="12.87" lengthAdjust="spacingAndGlyphs">-0.05</text>
<text x="248.00" y="275.83" font-size="6.50" font-weight="bold" textLength="12.87" lengthAdjust="spacingAndGlyphs">-0.06</text>
<text x="248.00" y="285.49" font-size="6.50" font-weight="bold" textLength="12.87" lengthAdjust="spacingAndGlyphs">-0.07</text>
<text x="248.00" y="295.15" font-size="6.50" font-weight="bold" textLength="12.87" lengthAdjust="spacingAndGlyphs">-0.08</text>
<text x="248.00" y="304.81" font-size="6.50" font-weight="bold" textLength="12.87" lengthAdjust="spacingAndGlyphs">-0.09</text>
<text x="33.20" y="313.81" font-size="6.50" font-weight="bold" text-anchor="middle" textLength="3.10" lengthAdjust="spacingAndGlyphs">0</text>
<text x="75.00" y="313.81" font-size="6.50" font-weight="bold" text-anchor="middle" textLength="9.30" lengthAdjust="spacingAndGlyphs">200</text>
<text x="116.80" y="313.81" font-size="6.50" font-weight="bold" text-anchor="middle" textLength="9.30" lengthAdjust="spacingAndGlyphs">400</text>
<text x="158.60" y="313.81" font-size="6.50" font-weight="bold" text-anchor="middle" textLength="9.30" lengthAdjust="spacingAndGlyphs">600</text>
<text x="200.40" y="313.81" font-size="6.50" font-weight="bold" text-anchor="middle" textLength="9.30" lengthAdjust="spacingAndGlyphs">800</text>
<text x="242.20" y="313.81" font-size="6.50" font-weight="bold" text-anchor="middle" textLength="12.40" lengthAdjust="spacingAndGlyphs">1000</text>
<text x="154.00" y="199.80" font-size="8.00" font-weight="bold" text-anchor="middle" textLength="57.20" lengthAdjust="spacingAndGlyphs">Empty fruit bunch</text>
<text x="137.50" y="323.60" font-size="6.40" font-weight="bold" text-anchor="middle" textLength="45.00" lengthAdjust="spacingAndGlyphs">Temperature (°C)</text>
<text x="15.20" y="245.80" font-size="6.20" font-weight="bold" text-anchor="middle" textLength="51.50" lengthAdjust="spacingAndGlyphs" transform="rotate(-90 15.20 245.80)">Sample weight (%)</text>
<text x="269.80" y="253.70" font-size="6.20" font-weight="bold" text-anchor="middle" textLength="82.00" lengthAdjust="spacingAndGlyphs" transform="rotate(-90 269.80 253.70)">Derivative weight loss (mm<tspan dy="-2.17" font-size="4.03">&#8722;1</tspan><tspan dy="2.17">)</tspan></text>
<line x1="63.20" y1="337.20" x2="70.80" y2="337.20" stroke="#5cb0e2" stroke-width="1.00"/>
<text x="71.60" y="339.00" font-size="5.00" font-weight="bold" textLength="46.00" lengthAdjust="spacingAndGlyphs">Empty fruit bunch TGA</text>
<line x1="63.20" y1="345.40" x2="70.80" y2="345.40" stroke="#c2c2c5" stroke-width="1.00"/>
<text x="71.60" y="347.20" font-size="5.00" font-weight="bold" textLength="46.00" lengthAdjust="spacingAndGlyphs">Empty fruit bunch DTA</text>
<line x1="140.00" y1="337.20" x2="148.00" y2="337.20" stroke="#f69c6a" stroke-width="1.00"/>
<text x="149.20" y="339.00" font-size="5.00" font-weight="bold" textLength="68.20" lengthAdjust="spacingAndGlyphs">Empty fruit bunch with trona TGA</text>
<line x1="140.00" y1="345.40" x2="148.00" y2="345.40" stroke="#fdd045" stroke-width="1.00"/>
<text x="149.20" y="347.20" font-size="5.00" font-weight="bold" textLength="68.20" lengthAdjust="spacingAndGlyphs">Empty fruit bunch with trona DTA</text>
<path d="M33.20,222.50 C34.33,222.67 37.20,223.00 40.00,223.50 C42.80,224.00 46.67,224.83 50.00,225.50 C53.33,226.17 56.67,226.92 60.00,227.50 C63.33,228.08 66.67,228.50 70.00,229.00 C73.33,229.50 77.50,230.03 80.00,230.50 C82.50,230.97 83.83,231.22 85.00,231.80 C86.17,232.38 86.33,232.63 87.00,234.00 C87.67,235.37 88.33,238.17 89.00,240.00 C89.67,241.83 90.33,243.33 91.00,245.00 C91.67,246.67 92.33,248.58 93.00,250.00 C93.67,251.42 94.17,252.17 95.00,253.50 C95.83,254.83 97.00,256.58 98.00,258.00 C99.00,259.42 100.00,260.83 101.00,262.00 C102.00,263.17 103.00,264.20 104.00,265.00 C105.00,265.80 105.83,266.47 107.00,266.80 C108.17,267.13 109.67,267.05 111.00,267.00 C112.33,266.95 113.83,266.42 115.00,266.50 C116.17,266.58 116.83,266.92 118.00,267.50 C119.17,268.08 120.67,269.17 122.00,270.00 C123.33,270.83 124.67,271.42 126.00,272.50 C127.33,273.58 128.50,275.08 130.00,276.50 C131.50,277.92 133.33,279.87 135.00,281.00 C136.67,282.13 138.33,282.80 140.00,283.30 C141.67,283.80 143.33,283.75 145.00,284.00 C146.67,284.25 148.33,284.47 150.00,284.80 C151.67,285.13 153.67,285.72 155.00,286.00 C156.33,286.28 156.33,286.37 158.00,286.50 C159.67,286.63 157.92,286.75 165.00,286.80 C172.08,286.85 194.58,286.80 200.50,286.80" fill="none" stroke="#5cb0e2" stroke-width="1.20" stroke-linejoin="round" stroke-linecap="round"/>
<path d="M33.20,222.50 C34.00,222.75 36.37,223.33 38.00,224.00 C39.63,224.67 41.33,225.75 43.00,226.50 C44.67,227.25 46.33,227.88 48.00,228.50 C49.67,229.12 51.67,229.95 53.00,230.20 C54.33,230.45 54.83,230.28 56.00,230.00 C57.17,229.72 58.83,228.83 60.00,228.50 C61.17,228.17 62.17,227.92 63.00,228.00 C63.83,228.08 64.33,228.50 65.00,229.00 C65.67,229.50 66.33,230.00 67.00,231.00 C67.67,232.00 68.33,233.58 69.00,235.00 C69.67,236.42 70.17,237.83 71.00,239.50 C71.83,241.17 72.83,243.25 74.00,245.00 C75.17,246.75 76.67,248.67 78.00,250.00 C79.33,251.33 80.67,252.30 82.00,253.00 C83.33,253.70 84.67,254.07 86.00,254.20 C87.33,254.33 88.67,253.92 90.00,253.80 C91.33,253.68 92.83,253.13 94.00,253.50 C95.17,253.87 96.00,254.75 97.00,256.00 C98.00,257.25 99.00,259.50 100.00,261.00 C101.00,262.50 102.17,263.67 103.00,265.00 C103.83,266.33 104.17,268.03 105.00,269.00 C105.83,269.97 106.83,270.47 108.00,270.80 C109.17,271.13 110.67,271.05 112.00,271.00 C113.33,270.95 114.83,270.42 116.00,270.50 C117.17,270.58 117.83,270.92 119.00,271.50 C120.17,272.08 121.67,273.00 123.00,274.00 C124.33,275.00 125.83,276.50 127.00,277.50 C128.17,278.50 128.67,279.25 130.00,280.00 C131.33,280.75 133.33,281.50 135.00,282.00 C136.67,282.50 138.33,282.88 140.00,283.00 C141.67,283.12 143.50,282.73 145.00,282.70 C146.50,282.67 147.83,282.58 149.00,282.80 C150.17,283.02 151.00,283.55 152.00,284.00 C153.00,284.45 154.00,285.08 155.00,285.50 C156.00,285.92 156.33,286.28 158.00,286.50 C159.67,286.72 157.92,286.75 165.00,286.80 C172.08,286.85 194.58,286.80 200.50,286.80" fill="none" stroke="#f69c6a" stroke-width="1.20" stroke-linejoin="round" stroke-linecap="round"/>
<path d="M33.20,216.50 C33.67,217.00 35.03,218.42 36.00,219.50 C36.97,220.58 38.00,221.83 39.00,223.00 C40.00,224.17 41.00,225.67 42.00,226.50 C43.00,227.33 44.00,227.72 45.00,228.00 C46.00,228.28 46.83,228.33 48.00,228.20 C49.17,228.07 50.67,227.48 52.00,227.20 C53.33,226.92 54.67,226.62 56.00,226.50 C57.33,226.38 58.83,226.62 60.00,226.50 C61.17,226.38 62.00,226.30 63.00,225.80 C64.00,225.30 65.00,224.63 66.00,223.50 C67.00,222.37 68.00,220.42 69.00,219.00 C70.00,217.58 71.17,215.73 72.00,215.00 C72.83,214.27 73.33,214.35 74.00,214.60 C74.67,214.85 75.33,215.10 76.00,216.50 C76.67,217.90 77.42,220.50 78.00,223.00 C78.58,225.50 79.08,229.17 79.50,231.50 C79.92,233.83 80.20,235.58 80.50,237.00 C80.80,238.42 80.98,238.33 81.30,240.00 C81.62,241.67 82.02,244.33 82.40,247.00 C82.78,249.67 83.23,253.50 83.60,256.00 C83.97,258.50 84.28,260.33 84.60,262.00 C84.92,263.67 85.17,264.67 85.50,266.00 C85.83,267.33 86.18,268.58 86.60,270.00 C87.02,271.42 87.43,272.67 88.00,274.50 C88.57,276.33 89.25,278.75 90.00,281.00 C90.75,283.25 91.67,286.08 92.50,288.00 C93.33,289.92 94.25,291.83 95.00,292.50 C95.75,293.17 96.25,292.75 97.00,292.00 C97.75,291.25 98.75,289.83 99.50,288.00 C100.25,286.17 100.83,283.50 101.50,281.00 C102.17,278.50 102.83,275.67 103.50,273.00 C104.17,270.33 104.92,267.17 105.50,265.00 C106.08,262.83 106.25,262.50 107.00,260.00 C107.75,257.50 109.17,253.17 110.00,250.00 C110.83,246.83 111.33,244.00 112.00,241.00 C112.67,238.00 113.33,234.50 114.00,232.00 C114.67,229.50 115.33,227.42 116.00,226.00 C116.67,224.58 117.17,223.97 118.00,223.50 C118.83,223.03 119.83,223.03 121.00,223.20 C122.17,223.37 121.83,224.12 125.00,224.50 C128.17,224.88 135.83,225.25 140.00,225.50 C144.17,225.75 145.83,226.02 150.00,226.00 C154.17,225.98 156.58,225.50 165.00,225.40 C173.42,225.30 194.58,225.40 200.50,225.40" fill="none" stroke="#c2c2c5" stroke-width="1.20" stroke-linejoin="round" stroke-linecap="round"/>
<path d="M33.20,216.00 C33.67,216.50 35.03,217.83 36.00,219.00 C36.97,220.17 38.00,221.75 39.00,223.00 C40.00,224.25 41.00,225.67 42.00,226.50 C43.00,227.33 44.00,227.72 45.00,228.00 C46.00,228.28 46.83,228.33 48.00,228.20 C49.17,228.07 50.67,227.48 52.00,227.20 C53.33,226.92 54.67,226.62 56.00,226.50 C57.33,226.38 58.83,226.62 60.00,226.50 C61.17,226.38 62.00,226.30 63.00,225.80 C64.00,225.30 65.00,224.63 66.00,223.50 C67.00,222.37 68.00,220.42 69.00,219.00 C70.00,217.58 71.17,215.70 72.00,215.00 C72.83,214.30 73.33,214.47 74.00,214.80 C74.67,215.13 75.33,215.55 76.00,217.00 C76.67,218.45 77.37,221.17 78.00,223.50 C78.63,225.83 79.23,228.75 79.80,231.00 C80.37,233.25 80.98,235.50 81.40,237.00 C81.82,238.50 81.98,238.67 82.30,240.00 C82.62,241.33 82.82,242.50 83.30,245.00 C83.78,247.50 84.55,251.67 85.20,255.00 C85.85,258.33 86.68,262.50 87.20,265.00 C87.72,267.50 87.95,268.67 88.30,270.00 C88.65,271.33 88.85,271.33 89.30,273.00 C89.75,274.67 90.38,277.50 91.00,280.00 C91.62,282.50 92.33,285.67 93.00,288.00 C93.67,290.33 94.42,292.70 95.00,294.00 C95.58,295.30 95.92,295.80 96.50,295.80 C97.08,295.80 97.83,295.30 98.50,294.00 C99.17,292.70 99.92,290.00 100.50,288.00 C101.08,286.00 101.50,284.17 102.00,282.00 C102.50,279.83 103.00,277.17 103.50,275.00 C104.00,272.83 104.42,271.50 105.00,269.00 C105.58,266.50 106.17,263.17 107.00,260.00 C107.83,256.83 109.17,253.33 110.00,250.00 C110.83,246.67 111.33,243.00 112.00,240.00 C112.67,237.00 113.33,234.33 114.00,232.00 C114.67,229.67 115.33,227.33 116.00,226.00 C116.67,224.67 117.17,224.37 118.00,224.00 C118.83,223.63 119.83,223.63 121.00,223.80 C122.17,223.97 123.50,224.77 125.00,225.00 C126.50,225.23 127.50,225.07 130.00,225.20 C132.50,225.33 137.50,225.50 140.00,225.80 C142.50,226.10 143.33,226.75 145.00,227.00 C146.67,227.25 147.50,227.25 150.00,227.30 C152.50,227.35 151.58,227.30 160.00,227.30 C168.42,227.30 193.75,227.30 200.50,227.30" fill="none" stroke="#fdd045" stroke-width="1.20" stroke-linejoin="round" stroke-linecap="round"/>
<line x1="314.20" y1="212.00" x2="314.20" y2="304.20" stroke="#d9d9d9" stroke-width="0.80"/>
<line x1="314.20" y1="304.20" x2="506.30" y2="304.20" stroke="#d9d9d9" stroke-width="0.80"/>
<line x1="506.30" y1="212.00" x2="506.30" y2="304.20" stroke="#d9d9d9" stroke-width="0.80"/>
<line x1="504.80" y1="212.70" x2="506.30" y2="212.70" stroke="#d9d9d9" stroke-width="0.60"/>
<line x1="504.80" y1="223.00" x2="506.30" y2="223.00" stroke="#d9d9d9" stroke-width="0.60"/>
<line x1="504.80" y1="233.30" x2="506.30" y2="233.30" stroke="#d9d9d9" stroke-width="0.60"/>
<line x1="504.80" y1="243.60" x2="506.30" y2="243.60" stroke="#d9d9d9" stroke-width="0.60"/>
<line x1="504.80" y1="253.90" x2="506.30" y2="253.90" stroke="#d9d9d9" stroke-width="0.60"/>
<line x1="504.80" y1="264.20" x2="506.30" y2="264.20" stroke="#d9d9d9" stroke-width="0.60"/>
<line x1="504.80" y1="274.50" x2="506.30" y2="274.50" stroke="#d9d9d9" stroke-width="0.60"/>
<line x1="504.80" y1="284.80" x2="506.30" y2="284.80" stroke="#d9d9d9" stroke-width="0.60"/>
<line x1="504.80" y1="295.10" x2="506.30" y2="295.10" stroke="#d9d9d9" stroke-width="0.60"/>
<line x1="504.80" y1="305.40" x2="506.30" y2="305.40" stroke="#d9d9d9" stroke-width="0.60"/>
<text x="308.60" y="306.61" font-size="6.20" font-weight="bold" text-anchor="end" textLength="3.20" lengthAdjust="spacingAndGlyphs">0</text>
<text x="308.60" y="291.31" font-size="6.20" font-weight="bold" text-anchor="end" textLength="6.40" lengthAdjust="spacingAndGlyphs">20</text>
<text x="308.60" y="276.01" font-size="6.20" font-weight="bold" text-anchor="end" textLength="6.40" lengthAdjust="spacingAndGlyphs">40</text>
<text x="308.60" y="260.71" font-size="6.20" font-weight="bold" text-anchor="end" textLength="6.40" lengthAdjust="spacingAndGlyphs">60</text>
<text x="308.60" y="245.41" font-size="6.20" font-weight="bold" text-anchor="end" textLength="6.40" lengthAdjust="spacingAndGlyphs">80</text>
<text x="308.60" y="230.11" font-size="6.20" font-weight="bold" text-anchor="end" textLength="9.60" lengthAdjust="spacingAndGlyphs">100</text>
<text x="308.60" y="214.81" font-size="6.20" font-weight="bold" text-anchor="end" textLength="9.60" lengthAdjust="spacingAndGlyphs">120</text>
<text x="512.20" y="214.81" font-size="6.20" font-weight="bold" textLength="11.36" lengthAdjust="spacingAndGlyphs">0.01</text>
<text x="512.20" y="225.11" font-size="6.20" font-weight="bold" textLength="3.20" lengthAdjust="spacingAndGlyphs">0</text>
<text x="512.20" y="235.41" font-size="6.20" font-weight="bold" textLength="13.28" lengthAdjust="spacingAndGlyphs">-0.01</text>
<text x="512.20" y="245.71" font-size="6.20" font-weight="bold" textLength="13.28" lengthAdjust="spacingAndGlyphs">-0.02</text>
<text x="512.20" y="256.01" font-size="6.20" font-weight="bold" textLength="13.28" lengthAdjust="spacingAndGlyphs">-0.03</text>
<text x="512.20" y="266.31" font-size="6.20" font-weight="bold" textLength="13.28" lengthAdjust="spacingAndGlyphs">-0.04</text>
<text x="512.20" y="276.61" font-size="6.20" font-weight="bold" textLength="13.28" lengthAdjust="spacingAndGlyphs">-0.05</text>
<text x="512.20" y="286.91" font-size="6.20" font-weight="bold" textLength="13.28" lengthAdjust="spacingAndGlyphs">-0.06</text>
<text x="512.20" y="297.21" font-size="6.20" font-weight="bold" textLength="13.28" lengthAdjust="spacingAndGlyphs">-0.07</text>
<text x="512.20" y="307.51" font-size="6.20" font-weight="bold" textLength="13.28" lengthAdjust="spacingAndGlyphs">-0.08</text>
<text x="314.20" y="314.71" font-size="6.20" font-weight="bold" text-anchor="middle" textLength="3.20" lengthAdjust="spacingAndGlyphs">0</text>
<text x="352.62" y="314.71" font-size="6.20" font-weight="bold" text-anchor="middle" textLength="9.60" lengthAdjust="spacingAndGlyphs">200</text>
<text x="391.04" y="314.71" font-size="6.20" font-weight="bold" text-anchor="middle" textLength="9.60" lengthAdjust="spacingAndGlyphs">400</text>
<text x="429.46" y="314.71" font-size="6.20" font-weight="bold" text-anchor="middle" textLength="9.60" lengthAdjust="spacingAndGlyphs">600</text>
<text x="467.88" y="314.71" font-size="6.20" font-weight="bold" text-anchor="middle" textLength="9.60" lengthAdjust="spacingAndGlyphs">800</text>
<text x="506.30" y="314.71" font-size="6.20" font-weight="bold" text-anchor="middle" textLength="12.80" lengthAdjust="spacingAndGlyphs">1000</text>
<text x="411.90" y="193.60" font-size="8.00" font-weight="bold" text-anchor="middle" textLength="70.80" lengthAdjust="spacingAndGlyphs">Combined palm waste</text>
<text x="410.60" y="323.10" font-size="6.20" font-weight="bold" text-anchor="middle" textLength="45.20" lengthAdjust="spacingAndGlyphs">Temperature (ºC)</text>
<text x="295.80" y="259.20" font-size="5.60" font-weight="bold" text-anchor="middle" textLength="45.00" lengthAdjust="spacingAndGlyphs" transform="rotate(-90 295.80 259.20)">Sample weight (%)</text>
<text x="535.30" y="255.90" font-size="5.80" font-weight="bold" text-anchor="middle" textLength="79.00" lengthAdjust="spacingAndGlyphs" transform="rotate(-90 535.30 255.90)">Derivative weight loss (mm-1)</text>
<line x1="315.00" y1="334.00" x2="322.40" y2="334.00" stroke="#5cb0e2" stroke-width="1.00"/>
<text x="323.20" y="335.80" font-size="5.00" font-weight="bold" textLength="53.80" lengthAdjust="spacingAndGlyphs">Combined palm waste TGA</text>
<line x1="315.00" y1="341.40" x2="322.40" y2="341.40" stroke="#c2c2c5" stroke-width="1.00"/>
<text x="323.20" y="343.20" font-size="5.00" font-weight="bold" textLength="53.80" lengthAdjust="spacingAndGlyphs">Combined palm waste DTA</text>
<line x1="438.40" y1="334.00" x2="445.60" y2="334.00" stroke="#f69c6a" stroke-width="1.00"/>
<text x="446.60" y="335.80" font-size="5.00" font-weight="bold" textLength="76.20" lengthAdjust="spacingAndGlyphs">Combined palm waste with trona TGA</text>
<line x1="438.40" y1="341.40" x2="445.60" y2="341.40" stroke="#fdd045" stroke-width="1.00"/>
<text x="446.60" y="343.20" font-size="5.00" font-weight="bold" textLength="76.20" lengthAdjust="spacingAndGlyphs">Combined palm waste with trona DTA</text>
<path d="M314.20,228.00 C314.67,228.42 315.70,229.75 317.00,230.50 C318.30,231.25 320.33,231.83 322.00,232.50 C323.67,233.17 325.33,233.95 327.00,234.50 C328.67,235.05 329.50,235.38 332.00,235.80 C334.50,236.22 338.67,236.72 342.00,237.00 C345.33,237.28 349.17,237.53 352.00,237.50 C354.83,237.47 357.17,236.80 359.00,236.80 C360.83,236.80 361.67,237.05 363.00,237.50 C364.33,237.95 365.83,238.75 367.00,239.50 C368.17,240.25 369.00,241.33 370.00,242.00 C371.00,242.67 371.67,242.75 373.00,243.50 C374.33,244.25 376.50,245.42 378.00,246.50 C379.50,247.58 380.83,248.58 382.00,250.00 C383.17,251.42 384.00,253.00 385.00,255.00 C386.00,257.00 387.00,260.00 388.00,262.00 C389.00,264.00 390.17,265.67 391.00,267.00 C391.83,268.33 392.00,268.67 393.00,270.00 C394.00,271.33 395.67,273.67 397.00,275.00 C398.33,276.33 399.67,277.33 401.00,278.00 C402.33,278.67 403.50,278.78 405.00,279.00 C406.50,279.22 408.50,279.13 410.00,279.30 C411.50,279.47 412.33,279.45 414.00,280.00 C415.67,280.55 415.67,281.93 420.00,282.60 C424.33,283.27 434.00,283.53 440.00,284.00 C446.00,284.47 451.33,285.17 456.00,285.40 C460.67,285.63 466.00,285.40 468.00,285.40" fill="none" stroke="#5cb0e2" stroke-width="1.20" stroke-linejoin="round" stroke-linecap="round"/>
<path d="M314.20,227.50 C314.67,227.75 315.70,228.38 317.00,229.00 C318.30,229.62 320.50,230.37 322.00,231.20 C323.50,232.03 324.83,232.87 326.00,234.00 C327.17,235.13 328.00,236.83 329.00,238.00 C330.00,239.17 331.00,240.33 332.00,241.00 C333.00,241.67 334.00,242.00 335.00,242.00 C336.00,242.00 337.00,241.37 338.00,241.00 C339.00,240.63 340.00,239.97 341.00,239.80 C342.00,239.63 343.00,239.63 344.00,240.00 C345.00,240.37 346.00,241.17 347.00,242.00 C348.00,242.83 348.67,243.50 350.00,245.00 C351.33,246.50 353.33,249.00 355.00,251.00 C356.67,253.00 358.33,255.50 360.00,257.00 C361.67,258.50 363.33,259.17 365.00,260.00 C366.67,260.83 368.67,261.17 370.00,262.00 C371.33,262.83 372.00,263.83 373.00,265.00 C374.00,266.17 375.17,267.92 376.00,269.00 C376.83,270.08 377.00,270.67 378.00,271.50 C379.00,272.33 380.83,273.50 382.00,274.00 C383.17,274.50 383.83,274.53 385.00,274.50 C386.17,274.47 387.67,273.72 389.00,273.80 C390.33,273.88 391.67,274.13 393.00,275.00 C394.33,275.87 395.67,277.83 397.00,279.00 C398.33,280.17 399.67,281.37 401.00,282.00 C402.33,282.63 403.50,282.72 405.00,282.80 C406.50,282.88 407.17,282.47 410.00,282.50 C412.83,282.53 417.00,282.68 422.00,283.00 C427.00,283.32 434.33,283.83 440.00,284.40 C445.67,284.97 451.33,286.07 456.00,286.40 C460.67,286.73 466.00,286.40 468.00,286.40" fill="none" stroke="#f69c6a" stroke-width="1.20" stroke-linejoin="round" stroke-linecap="round"/>
<path d="M314.20,227.00 C314.83,227.42 316.70,228.50 318.00,229.50 C319.30,230.50 320.50,232.17 322.00,233.00 C323.50,233.83 325.33,234.33 327.00,234.50 C328.67,234.67 330.33,234.17 332.00,234.00 C333.67,233.83 335.33,233.75 337.00,233.50 C338.67,233.25 340.50,233.25 342.00,232.50 C343.50,231.75 344.67,230.42 346.00,229.00 C347.33,227.58 348.67,225.25 350.00,224.00 C351.33,222.75 352.50,222.08 354.00,221.50 C355.50,220.92 357.67,220.42 359.00,220.50 C360.33,220.58 361.00,220.75 362.00,222.00 C363.00,223.25 364.17,226.00 365.00,228.00 C365.83,230.00 366.50,232.00 367.00,234.00 C367.50,236.00 367.50,238.00 368.00,240.00 C368.50,242.00 369.33,243.83 370.00,246.00 C370.67,248.17 371.33,250.50 372.00,253.00 C372.67,255.50 373.25,257.67 374.00,261.00 C374.75,264.33 375.75,269.83 376.50,273.00 C377.25,276.17 377.78,278.20 378.50,280.00 C379.22,281.80 380.13,283.63 380.80,283.80 C381.47,283.97 381.97,282.80 382.50,281.00 C383.03,279.20 383.42,276.00 384.00,273.00 C384.58,270.00 385.33,266.33 386.00,263.00 C386.67,259.67 387.42,256.33 388.00,253.00 C388.58,249.67 389.00,245.75 389.50,243.00 C390.00,240.25 390.42,237.75 391.00,236.50 C391.58,235.25 392.17,235.67 393.00,235.50 C393.83,235.33 394.83,235.28 396.00,235.50 C397.17,235.72 398.50,236.63 400.00,236.80 C401.50,236.97 402.50,236.72 405.00,236.50 C407.50,236.28 411.67,235.92 415.00,235.50 C418.33,235.08 422.50,234.28 425.00,234.00 C427.50,233.72 428.33,233.92 430.00,233.80 C431.67,233.68 433.33,233.43 435.00,233.30 C436.67,233.17 434.50,233.05 440.00,233.00 C445.50,232.95 463.33,233.00 468.00,233.00" fill="none" stroke="#c2c2c5" stroke-width="1.20" stroke-linejoin="round" stroke-linecap="round"/>
<path d="M314.20,222.50 C314.50,222.92 315.20,223.92 316.00,225.00 C316.80,226.08 318.00,227.75 319.00,229.00 C320.00,230.25 321.00,231.58 322.00,232.50 C323.00,233.42 324.00,234.17 325.00,234.50 C326.00,234.83 326.83,234.75 328.00,234.50 C329.17,234.25 330.50,233.22 332.00,233.00 C333.50,232.78 335.33,233.28 337.00,233.20 C338.67,233.12 340.67,233.12 342.00,232.50 C343.33,231.88 344.00,230.75 345.00,229.50 C346.00,228.25 347.08,226.28 348.00,225.00 C348.92,223.72 349.83,222.30 350.50,221.80 C351.17,221.30 351.42,221.30 352.00,222.00 C352.58,222.70 353.33,223.67 354.00,226.00 C354.67,228.33 355.42,232.83 356.00,236.00 C356.58,239.17 357.00,242.67 357.50,245.00 C358.00,247.33 358.42,247.50 359.00,250.00 C359.58,252.50 360.33,256.83 361.00,260.00 C361.67,263.17 362.33,266.50 363.00,269.00 C363.67,271.50 364.25,272.33 365.00,275.00 C365.75,277.67 366.75,282.17 367.50,285.00 C368.25,287.83 368.92,290.33 369.50,292.00 C370.08,293.67 370.50,295.00 371.00,295.00 C371.50,295.00 372.00,294.00 372.50,292.00 C373.00,290.00 373.50,286.17 374.00,283.00 C374.50,279.83 375.00,276.83 375.50,273.00 C376.00,269.17 376.50,263.83 377.00,260.00 C377.50,256.17 378.00,253.17 378.50,250.00 C379.00,246.83 379.50,243.83 380.00,241.00 C380.50,238.17 380.83,234.70 381.50,233.00 C382.17,231.30 382.92,231.05 384.00,230.80 C385.08,230.55 386.67,231.17 388.00,231.50 C389.33,231.83 390.00,232.58 392.00,232.80 C394.00,233.02 397.33,232.85 400.00,232.80 C402.67,232.75 406.00,232.38 408.00,232.50 C410.00,232.62 410.83,233.08 412.00,233.50 C413.17,233.92 413.83,234.50 415.00,235.00 C416.17,235.50 417.67,236.20 419.00,236.50 C420.33,236.80 421.17,236.92 423.00,236.80 C424.83,236.68 428.00,236.07 430.00,235.80 C432.00,235.53 433.33,235.33 435.00,235.20 C436.67,235.07 434.50,235.03 440.00,235.00 C445.50,234.97 463.33,235.00 468.00,235.00" fill="none" stroke="#fdd045" stroke-width="1.20" stroke-linejoin="round" stroke-linecap="round"/></svg>
</body></html>
